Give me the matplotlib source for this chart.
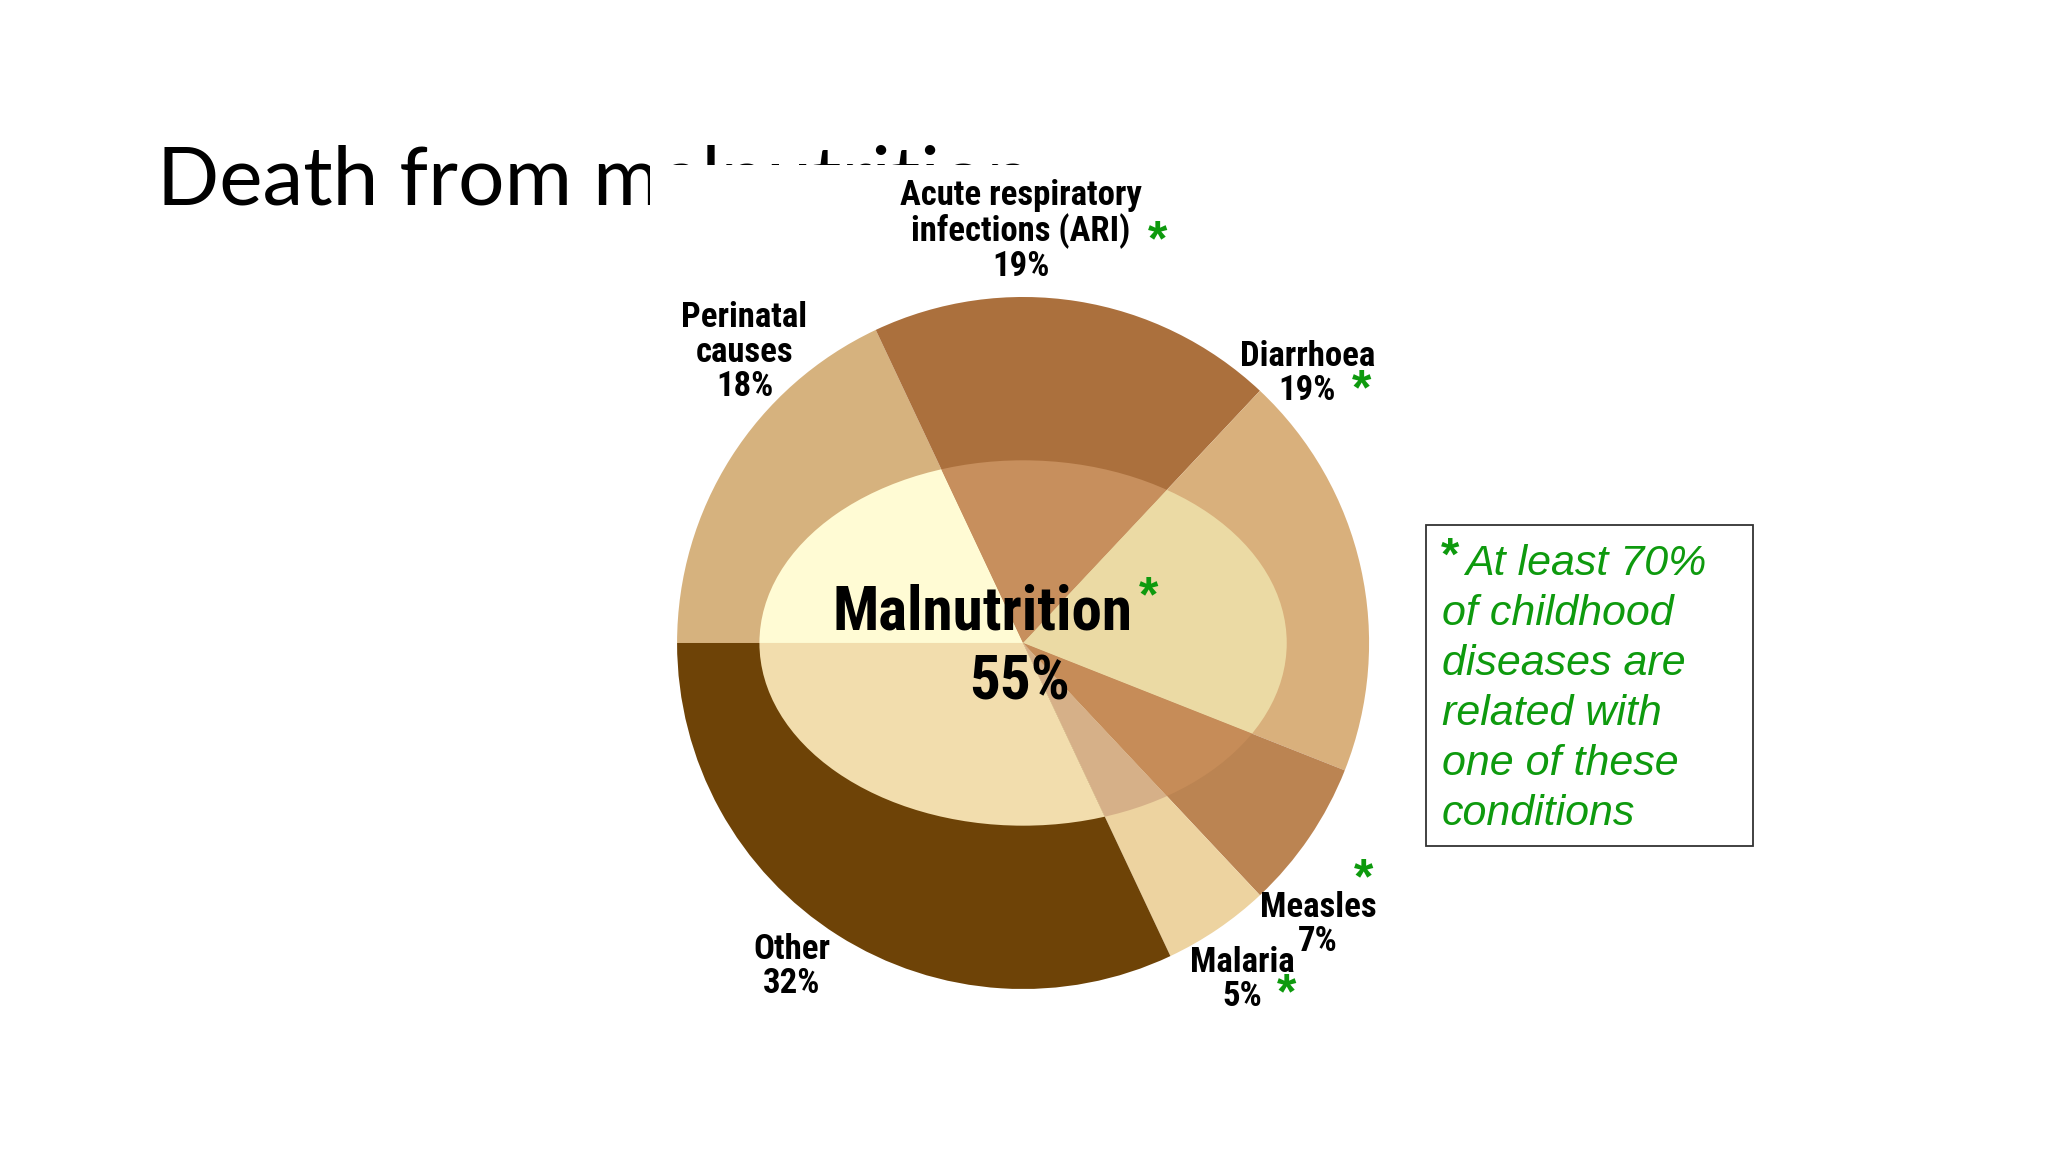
import matplotlib
matplotlib.use("Agg")
import matplotlib.pyplot as plt
from matplotlib.patches import Ellipse, Rectangle

causes = ["Perinatal\ncauses", "Acute respiratory\ninfections (ARI)", "Diarrhoea",
          "Measles", "Malaria", "Other"]
shares = [18, 19, 19, 7, 5, 32]
malnutrition_share = 55
starred = [False, True, True, True, True, False]

note_lines = ["At least 70%", "of childhood", "diseases are",
              "related with", "one of these", "conditions"]

outer_colors = ["#D6B27E", "#AB703D", "#D9B07C", "#BB8452", "#EDD3A0", "#6E4307"]
inner_colors = ["#FFFBD4", "#C78F5D", "#EBDAA4", "#C68C58", "#D6B088", "#F2DDAD"]
green = "#0E9A0E"
label_font = ["Liberation Sans Narrow", "Roboto Condensed", "DejaVu Sans Condensed",
              "Roboto", "DejaVu Sans"]

fig = plt.figure(figsize=(20.48, 11.52), dpi=100)

# slide title, partly hidden behind the chart picture
fig.text(0.0765, 0.8229, "Death from malnutrition", fontsize=59, family=["Lato", "DejaVu Sans"],
         va="baseline", ha="left", zorder=1)
fig.patches.append(Rectangle((0.3174, 0.04), 0.37, 0.8168, transform=fig.transFigure,
                             facecolor="white", edgecolor="none", zorder=1.5))

ax = fig.add_axes([0.3306, 0.1415, 0.3379, 0.6007], zorder=2)
ax.patch.set_alpha(0)
outer, _ = ax.pie(shares, colors=outer_colors, startangle=180, counterclock=False,
                  radius=1.0, wedgeprops=dict(linewidth=0))
inner, _ = ax.pie(shares, colors=inner_colors, startangle=180, counterclock=False,
                  radius=0.8, wedgeprops=dict(linewidth=0))
core = Ellipse((0, 0), 2 * 0.762, 2 * 0.528, facecolor="none", edgecolor="none")
ax.add_patch(core)
for w in inner:
    w.set_clip_on(True)
    w.set_clip_path(core)
ax.set_xlim(-1, 1)
ax.set_ylim(-1, 1)
ax.set_aspect("equal")
ax.axis("off")

# slice labels
label_pos = [(0.3635, 0.6942), (0.4985, 0.7995), (0.6383, 0.676),
             (0.6435, 0.1972), (0.6065, 0.150), (0.3865, 0.161)]
star_pos = [None, (0.5650, 0.7896), (0.6650, 0.660), (0.6660, 0.2358), (0.6280, 0.136), None]
for name, val, (x, y) in zip(causes, shares, label_pos):
    fig.text(x, y, f"{name}\n{val}%", ha="center", va="center", fontsize=25,
             fontweight="bold", fontstretch="condensed", family=label_font,
             linespacing=1.05, zorder=3)
for s, p in zip(starred, star_pos):
    if s:
        fig.text(p[0], p[1], "*", color=green, fontsize=36, fontweight="bold",
                 ha="center", va="center",
                 family=["Liberation Sans", "DejaVu Sans"], zorder=3)

fig.text(0.4795, 0.4685, "Malnutrition", ha="center", va="center", fontsize=44,
         fontweight="bold", fontstretch="condensed", family=label_font, zorder=3)
fig.text(0.498, 0.4072, f"{malnutrition_share}%", ha="center", va="center", fontsize=44,
         fontweight="bold", fontstretch="condensed", family=label_font, zorder=3)
fig.text(0.561, 0.4806, "*", color=green, fontsize=36, fontweight="bold",
         ha="center", va="center",
         family=["Liberation Sans", "DejaVu Sans"], zorder=3)

# note box
fig.patches.append(Rectangle((0.6963, 0.2656), 0.1597, 0.2786, transform=fig.transFigure,
                             facecolor="white", edgecolor="#333333", linewidth=1.3, zorder=2))
for i, line in enumerate(note_lines):
    yb = 1 - (575 + 50 * i) / 1152
    x0 = 1465 / 2048 if i == 0 else 1442 / 2048
    fig.text(x0, yb, line, color=green, fontsize=31, fontstyle="italic",
             family=["Liberation Sans", "DejaVu Sans"], va="baseline", ha="left", zorder=3)
fig.text(1441 / 2048, 1 - 570 / 1152, "*", color=green, fontsize=34, fontweight="bold",
         family=["Liberation Sans", "DejaVu Sans"], va="baseline", ha="left", zorder=3)

fig.savefig("out.png", dpi=100)
plt.close(fig)
